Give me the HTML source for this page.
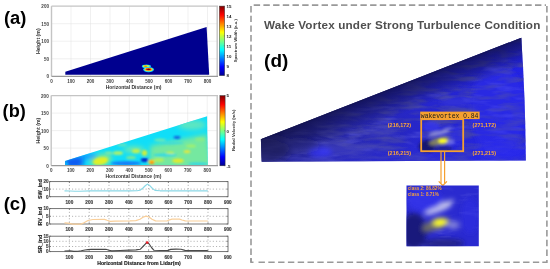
<!DOCTYPE html><html><head><meta charset="utf-8"><style>html,body{margin:0;padding:0;background:#fff;}
svg{display:block;}
.g{stroke:#e0e0e0;stroke-width:0.5;}
.dg{stroke:#808080;stroke-width:0.6;stroke-dasharray:1.1 2.1;}
.axl{stroke:#c4c4c4;stroke-width:1.4;}
.axb{stroke:#999;stroke-width:1.2;}
.ax2{fill:none;stroke:#666;stroke-width:0.9;}
.tk{font-family:"Liberation Sans", Arial, sans-serif;font-size:4.4px;font-weight:bold;fill:#222;}
.tk2{font-family:"Liberation Sans", Arial, sans-serif;font-size:5.2px;font-weight:bold;fill:#444;}
.tk3{font-family:"Liberation Sans", Arial, sans-serif;font-size:5.2px;font-weight:bold;fill:#3a3a3a;stroke:#3a3a3a;stroke-width:0.15px;}
.lb{font-family:"Liberation Sans", Arial, sans-serif;font-size:5.2px;font-weight:bold;fill:#222;stroke:#222;stroke-width:0.15px;}
.lb2{font-family:"Liberation Sans", Arial, sans-serif;font-size:5.2px;font-weight:bold;fill:#333;}
</style></head><body><svg width="550" height="269" viewBox="0 0 550 269"><defs><linearGradient id="jetA" x1="0" y1="1" x2="0" y2="0"><stop offset="0" stop-color="#00008f"/><stop offset="0.125" stop-color="#0000ff"/><stop offset="0.375" stop-color="#00ffff"/><stop offset="0.625" stop-color="#ffff00"/><stop offset="0.875" stop-color="#ff0000"/><stop offset="1" stop-color="#800000"/></linearGradient><linearGradient id="jetB" x1="0" y1="1" x2="0" y2="0"><stop offset="0" stop-color="#00008f"/><stop offset="0.125" stop-color="#0000ff"/><stop offset="0.375" stop-color="#00ffff"/><stop offset="0.625" stop-color="#ffff00"/><stop offset="0.875" stop-color="#ff0000"/><stop offset="1" stop-color="#800000"/></linearGradient><filter id="bl05" x="-50%" y="-50%" width="200%" height="200%"><feGaussianBlur stdDeviation="0.6"/></filter><filter id="bl15" x="-50%" y="-50%" width="200%" height="200%"><feGaussianBlur stdDeviation="1.5"/></filter><filter id="bl1" x="-50%" y="-50%" width="200%" height="200%"><feGaussianBlur stdDeviation="1.2"/></filter><filter id="bl2" x="-50%" y="-50%" width="200%" height="200%"><feGaussianBlur stdDeviation="2.5"/></filter><filter id="bl3" x="-50%" y="-50%" width="200%" height="200%"><feGaussianBlur stdDeviation="4"/></filter><clipPath id="triB"><polygon points="65,161 207.1,116.2 207.7,165 65,165"/></clipPath><clipPath id="wedge"><path d="M260.9,139.2 L521.3,37.7 Q525.5,100 525.8,160.5 L261.7,161.8 Z"/></clipPath><linearGradient id="wg" x1="0" y1="0" x2="1" y2="0"><stop offset="0" stop-color="#22225c"/><stop offset="0.12" stop-color="#26267c"/><stop offset="0.3" stop-color="#2828a8"/><stop offset="0.6" stop-color="#2626cc"/><stop offset="1" stop-color="#2222e6"/></linearGradient><linearGradient id="topband" gradientUnits="userSpaceOnUse" x1="390" y1="88.6" x2="400.2" y2="114.7"><stop offset="0" stop-color="#10104e" stop-opacity="0.85"/><stop offset="0.5" stop-color="#10104e" stop-opacity="0.45"/><stop offset="1" stop-color="#12125a" stop-opacity="0"/></linearGradient><linearGradient id="botband" gradientUnits="userSpaceOnUse" x1="0" y1="135" x2="0" y2="161"><stop offset="0" stop-color="#3030f0" stop-opacity="0"/><stop offset="1" stop-color="#3030f0" stop-opacity="0.35"/></linearGradient></defs><rect width="550" height="269" fill="#fff"/><g><line x1="71.0" y1="6.1" x2="71.0" y2="76.4" class="g"/><line x1="90.5" y1="6.1" x2="90.5" y2="76.4" class="g"/><line x1="110.0" y1="6.1" x2="110.0" y2="76.4" class="g"/><line x1="129.5" y1="6.1" x2="129.5" y2="76.4" class="g"/><line x1="149.0" y1="6.1" x2="149.0" y2="76.4" class="g"/><line x1="168.5" y1="6.1" x2="168.5" y2="76.4" class="g"/><line x1="188.0" y1="6.1" x2="188.0" y2="76.4" class="g"/><line x1="207.5" y1="6.1" x2="207.5" y2="76.4" class="g"/><line x1="51.5" y1="58.8" x2="218.0" y2="58.8" class="g"/><line x1="51.5" y1="41.2" x2="218.0" y2="41.2" class="g"/><line x1="51.5" y1="23.7" x2="218.0" y2="23.7" class="g"/><polygon points="65.3,71.7 206.6,27 209.2,74.8 65.3,74.8" fill="#00008f"/><g filter="url(#bl05)"><ellipse cx="146.4" cy="66.3" rx="4.6" ry="1.9" fill="#10c8ff"/><ellipse cx="146.2" cy="66.2" rx="3.4" ry="1.2" fill="#b8f848"/><ellipse cx="145.6" cy="66.2" rx="1.6" ry="0.75" fill="#ff8a00"/><ellipse cx="148.6" cy="69.6" rx="5.4" ry="2.6" fill="#10c8ff"/><ellipse cx="148.6" cy="69.5" rx="4.2" ry="1.8" fill="#f0f020"/><ellipse cx="148.5" cy="69.4" rx="3.1" ry="1.15" fill="#f02000"/><ellipse cx="148.6" cy="69.4" rx="1.5" ry="0.6" fill="#800000"/></g><line x1="51.5" y1="6.1" x2="218.0" y2="6.1" class="axl"/><line x1="51.5" y1="6.1" x2="51.5" y2="76.4" class="axl"/><line x1="217.2" y1="6.1" x2="217.2" y2="76.4" class="axl"/><line x1="51.5" y1="76.4" x2="218.0" y2="76.4" class="axb"/><text x="51.5" y="83.0" class="tk2" text-anchor="middle" textLength="2.55" lengthAdjust="spacingAndGlyphs">0</text><text x="71.0" y="83.0" class="tk2" text-anchor="middle" textLength="7.65" lengthAdjust="spacingAndGlyphs">100</text><text x="90.5" y="83.0" class="tk2" text-anchor="middle" textLength="7.65" lengthAdjust="spacingAndGlyphs">200</text><text x="110.0" y="83.0" class="tk2" text-anchor="middle" textLength="7.65" lengthAdjust="spacingAndGlyphs">300</text><text x="129.5" y="83.0" class="tk2" text-anchor="middle" textLength="7.65" lengthAdjust="spacingAndGlyphs">400</text><text x="149.0" y="83.0" class="tk2" text-anchor="middle" textLength="7.65" lengthAdjust="spacingAndGlyphs">500</text><text x="168.5" y="83.0" class="tk2" text-anchor="middle" textLength="7.65" lengthAdjust="spacingAndGlyphs">600</text><text x="188.0" y="83.0" class="tk2" text-anchor="middle" textLength="7.65" lengthAdjust="spacingAndGlyphs">700</text><text x="207.5" y="83.0" class="tk2" text-anchor="middle" textLength="7.65" lengthAdjust="spacingAndGlyphs">800</text><text x="49.0" y="78.4" class="tk2" text-anchor="end" textLength="2.55" lengthAdjust="spacingAndGlyphs">0</text><text x="49.0" y="60.8" class="tk2" text-anchor="end" textLength="5.10" lengthAdjust="spacingAndGlyphs">50</text><text x="49.0" y="43.2" class="tk2" text-anchor="end" textLength="7.65" lengthAdjust="spacingAndGlyphs">100</text><text x="49.0" y="25.7" class="tk2" text-anchor="end" textLength="7.65" lengthAdjust="spacingAndGlyphs">150</text><text x="49.0" y="8.1" class="tk2" text-anchor="end" textLength="7.65" lengthAdjust="spacingAndGlyphs">200</text><text x="133.6" y="88.8" class="lb2" style="font-size:5px" text-anchor="middle">Horizontal Distance (m)</text><text transform="translate(39.5 41.2) rotate(-90)" class="lb2" text-anchor="middle">Height (m)</text><rect x="219.4" y="6.1" width="5.2" height="69.5" fill="url(#jetA)" stroke="#333" stroke-width="0.5"/><line x1="223.8" y1="75.6" x2="224.6" y2="75.6" stroke="#333" stroke-width="0.4"/><text x="226.5" y="77.4" class="tk">8</text><line x1="223.8" y1="65.7" x2="224.6" y2="65.7" stroke="#333" stroke-width="0.4"/><text x="226.5" y="67.5" class="tk">9</text><line x1="223.8" y1="55.7" x2="224.6" y2="55.7" stroke="#333" stroke-width="0.4"/><text x="226.5" y="57.5" class="tk">10</text><line x1="223.8" y1="45.8" x2="224.6" y2="45.8" stroke="#333" stroke-width="0.4"/><text x="226.5" y="47.6" class="tk">11</text><line x1="223.8" y1="35.9" x2="224.6" y2="35.9" stroke="#333" stroke-width="0.4"/><text x="226.5" y="37.7" class="tk">12</text><line x1="223.8" y1="26.0" x2="224.6" y2="26.0" stroke="#333" stroke-width="0.4"/><text x="226.5" y="27.8" class="tk">13</text><line x1="223.8" y1="16.0" x2="224.6" y2="16.0" stroke="#333" stroke-width="0.4"/><text x="226.5" y="17.8" class="tk">14</text><line x1="223.8" y1="6.1" x2="224.6" y2="6.1" stroke="#333" stroke-width="0.4"/><text x="226.5" y="7.9" class="tk">15</text><text transform="translate(236.9 40.7) rotate(-90)" class="lb2" style="font-size:4.2px" text-anchor="middle">Spectrum Width (a.u.)</text></g><g><line x1="70.7" y1="95.6" x2="70.7" y2="165.6" class="g"/><line x1="90.2" y1="95.6" x2="90.2" y2="165.6" class="g"/><line x1="109.7" y1="95.6" x2="109.7" y2="165.6" class="g"/><line x1="129.2" y1="95.6" x2="129.2" y2="165.6" class="g"/><line x1="148.7" y1="95.6" x2="148.7" y2="165.6" class="g"/><line x1="168.2" y1="95.6" x2="168.2" y2="165.6" class="g"/><line x1="187.7" y1="95.6" x2="187.7" y2="165.6" class="g"/><line x1="207.2" y1="95.6" x2="207.2" y2="165.6" class="g"/><line x1="51.2" y1="148.1" x2="218.0" y2="148.1" class="g"/><line x1="51.2" y1="130.6" x2="218.0" y2="130.6" class="g"/><line x1="51.2" y1="113.1" x2="218.0" y2="113.1" class="g"/><g clip-path="url(#triB)"><rect x="60" y="110" width="155" height="60" fill="#10def8"/><g filter="url(#bl2)"><polygon points="150,146 207,134 212,168 150,168" fill="#74e8a0"/><ellipse cx="192" cy="125" rx="14" ry="5" fill="#5ee6c0"/><ellipse cx="134" cy="149.5" rx="11" ry="3" fill="#78e8a8"/><ellipse cx="101" cy="160" rx="11" ry="5.5" fill="#90ea80" transform="rotate(-15 101 160)"/><ellipse cx="74" cy="162.5" rx="10" ry="5.5" fill="#0a58f2"/><ellipse cx="86" cy="156.5" rx="12" ry="2" fill="#0a80ff"/></g><g filter="url(#bl1)"><ellipse cx="118" cy="153" rx="5" ry="2" fill="#a8f070"/><ellipse cx="136" cy="151" rx="4" ry="2" fill="#c0f050"/><ellipse cx="131" cy="157.5" rx="5" ry="1.6" fill="#80e890"/><ellipse cx="109" cy="153" rx="4" ry="1.6" fill="#80e8a0"/><ellipse cx="159" cy="160" rx="5" ry="2" fill="#b0f060"/><ellipse cx="170" cy="153" rx="4" ry="1.6" fill="#c8f048"/><ellipse cx="200" cy="139.5" rx="5" ry="1.8" fill="#88ec88"/><ellipse cx="191" cy="146" rx="5" ry="1.6" fill="#a0f070"/><ellipse cx="160" cy="140" rx="6" ry="1.5" fill="#70e8b0"/><ellipse cx="122" cy="145" rx="5" ry="1.4" fill="#60e4c0"/><ellipse cx="165" cy="155" rx="12" ry="1.4" fill="#30d8e8"/><ellipse cx="198" cy="163.8" rx="10" ry="1.4" fill="#30d8e8"/><ellipse cx="172" cy="143" rx="12" ry="1.4" fill="#40dcd8"/><ellipse cx="100.5" cy="161" rx="7.5" ry="3.6" fill="#e0f028" transform="rotate(-12 100.5 161)"/><ellipse cx="66.5" cy="164" rx="1.8" ry="1.6" fill="#00c0ff"/><ellipse cx="144.5" cy="153" rx="2.8" ry="3" fill="#c8ee40"/><ellipse cx="151.5" cy="162" rx="3.2" ry="2.4" fill="#ffd020"/><ellipse cx="151.8" cy="162.8" rx="1.8" ry="1.2" fill="#ff7000"/><ellipse cx="178" cy="160.8" rx="6" ry="2.2" fill="#e0ea30"/><ellipse cx="187" cy="151.6" rx="3.5" ry="1.6" fill="#e0e840"/><ellipse cx="144.6" cy="160" rx="3.8" ry="2" fill="#0028c8"/><ellipse cx="126" cy="163.2" rx="15" ry="2" fill="#1478f8"/><ellipse cx="177" cy="137.5" rx="3.5" ry="1.4" fill="#1060e0"/></g></g><line x1="51.2" y1="95.6" x2="218.0" y2="95.6" class="axl"/><line x1="51.2" y1="95.6" x2="51.2" y2="165.6" class="axl"/><line x1="217.2" y1="95.6" x2="217.2" y2="165.6" class="axl"/><line x1="51.2" y1="165.6" x2="218.0" y2="165.6" class="axb"/><text x="51.2" y="172.2" class="tk2" text-anchor="middle" textLength="2.55" lengthAdjust="spacingAndGlyphs">0</text><text x="70.7" y="172.2" class="tk2" text-anchor="middle" textLength="7.65" lengthAdjust="spacingAndGlyphs">100</text><text x="90.2" y="172.2" class="tk2" text-anchor="middle" textLength="7.65" lengthAdjust="spacingAndGlyphs">200</text><text x="109.7" y="172.2" class="tk2" text-anchor="middle" textLength="7.65" lengthAdjust="spacingAndGlyphs">300</text><text x="129.2" y="172.2" class="tk2" text-anchor="middle" textLength="7.65" lengthAdjust="spacingAndGlyphs">400</text><text x="148.7" y="172.2" class="tk2" text-anchor="middle" textLength="7.65" lengthAdjust="spacingAndGlyphs">500</text><text x="168.2" y="172.2" class="tk2" text-anchor="middle" textLength="7.65" lengthAdjust="spacingAndGlyphs">600</text><text x="187.7" y="172.2" class="tk2" text-anchor="middle" textLength="7.65" lengthAdjust="spacingAndGlyphs">700</text><text x="207.2" y="172.2" class="tk2" text-anchor="middle" textLength="7.65" lengthAdjust="spacingAndGlyphs">800</text><text x="48.7" y="167.6" class="tk2" text-anchor="end" textLength="2.55" lengthAdjust="spacingAndGlyphs">0</text><text x="48.7" y="150.1" class="tk2" text-anchor="end" textLength="5.10" lengthAdjust="spacingAndGlyphs">50</text><text x="48.7" y="132.6" class="tk2" text-anchor="end" textLength="7.65" lengthAdjust="spacingAndGlyphs">100</text><text x="48.7" y="115.1" class="tk2" text-anchor="end" textLength="7.65" lengthAdjust="spacingAndGlyphs">150</text><text x="48.7" y="97.6" class="tk2" text-anchor="end" textLength="7.65" lengthAdjust="spacingAndGlyphs">200</text><text x="133.4" y="178.0" class="lb2" style="font-size:5px" text-anchor="middle">Horizontal Distance (m)</text><text transform="translate(39.5 130.6) rotate(-90)" class="lb2" text-anchor="middle">Height (m)</text><rect x="219.9" y="95.6" width="5.2" height="70.20000000000002" fill="url(#jetB)" stroke="#333" stroke-width="0.5"/><line x1="224.3" y1="165.8" x2="225.1" y2="165.8" stroke="#333" stroke-width="0.4"/><text x="226.5" y="167.6" class="tk">-5</text><line x1="224.3" y1="130.7" x2="225.1" y2="130.7" stroke="#333" stroke-width="0.4"/><text x="226.5" y="132.5" class="tk">0</text><line x1="224.3" y1="95.6" x2="225.1" y2="95.6" stroke="#333" stroke-width="0.4"/><text x="226.5" y="97.4" class="tk">5</text><text transform="translate(235.4 130.3) rotate(-90)" class="lb2" style="font-size:4.25px" text-anchor="middle">Radial Velocity (m/s)</text></g><g><line x1="69.4" y1="181.6" x2="69.4" y2="196.7" class="dg"/><line x1="89.2" y1="181.6" x2="89.2" y2="196.7" class="dg"/><line x1="109.0" y1="181.6" x2="109.0" y2="196.7" class="dg"/><line x1="128.8" y1="181.6" x2="128.8" y2="196.7" class="dg"/><line x1="148.6" y1="181.6" x2="148.6" y2="196.7" class="dg"/><line x1="168.4" y1="181.6" x2="168.4" y2="196.7" class="dg"/><line x1="188.2" y1="181.6" x2="188.2" y2="196.7" class="dg"/><line x1="208.0" y1="181.6" x2="208.0" y2="196.7" class="dg"/><line x1="49.6" y1="189.1" x2="228.0" y2="189.1" class="dg"/><rect x="49.6" y="181.6" width="178.4" height="15.099999999999994" class="ax2"/><path d="M69.4 181.6 v1.4 M69.4 196.7 v-1.4" stroke="#555" stroke-width="0.6"/><path d="M89.2 181.6 v1.4 M89.2 196.7 v-1.4" stroke="#555" stroke-width="0.6"/><path d="M109.0 181.6 v1.4 M109.0 196.7 v-1.4" stroke="#555" stroke-width="0.6"/><path d="M128.8 181.6 v1.4 M128.8 196.7 v-1.4" stroke="#555" stroke-width="0.6"/><path d="M148.6 181.6 v1.4 M148.6 196.7 v-1.4" stroke="#555" stroke-width="0.6"/><path d="M168.4 181.6 v1.4 M168.4 196.7 v-1.4" stroke="#555" stroke-width="0.6"/><path d="M188.2 181.6 v1.4 M188.2 196.7 v-1.4" stroke="#555" stroke-width="0.6"/><path d="M208.0 181.6 v1.4 M208.0 196.7 v-1.4" stroke="#555" stroke-width="0.6"/><path d="M49.6 196.7 h1.4 M228.0 196.7 h-1.4" stroke="#555" stroke-width="0.6"/><path d="M49.6 189.1 h1.4 M228.0 189.1 h-1.4" stroke="#555" stroke-width="0.6"/><path d="M49.6 181.6 h1.4 M228.0 181.6 h-1.4" stroke="#555" stroke-width="0.6"/><text x="48.5" y="198.5" class="tk3" text-anchor="end" textLength="2.55" lengthAdjust="spacingAndGlyphs">0</text><text x="48.5" y="191.0" class="tk3" text-anchor="end" textLength="5.10" lengthAdjust="spacingAndGlyphs">10</text><text x="48.5" y="183.4" class="tk3" text-anchor="end" textLength="5.10" lengthAdjust="spacingAndGlyphs">20</text><text x="69.4" y="203.6" class="tk3" text-anchor="middle" textLength="7.80" lengthAdjust="spacingAndGlyphs">100</text><text x="89.2" y="203.6" class="tk3" text-anchor="middle" textLength="7.80" lengthAdjust="spacingAndGlyphs">200</text><text x="109.0" y="203.6" class="tk3" text-anchor="middle" textLength="7.80" lengthAdjust="spacingAndGlyphs">300</text><text x="128.8" y="203.6" class="tk3" text-anchor="middle" textLength="7.80" lengthAdjust="spacingAndGlyphs">400</text><text x="148.6" y="203.6" class="tk3" text-anchor="middle" textLength="7.80" lengthAdjust="spacingAndGlyphs">500</text><text x="168.4" y="203.6" class="tk3" text-anchor="middle" textLength="7.80" lengthAdjust="spacingAndGlyphs">600</text><text x="188.2" y="203.6" class="tk3" text-anchor="middle" textLength="7.80" lengthAdjust="spacingAndGlyphs">700</text><text x="208.0" y="203.6" class="tk3" text-anchor="middle" textLength="7.80" lengthAdjust="spacingAndGlyphs">800</text><text x="227.8" y="203.6" class="tk3" text-anchor="middle" textLength="7.80" lengthAdjust="spacingAndGlyphs">900</text><text transform="translate(41.6 189.1) rotate(-90)" class="lb" style="font-size:5.4px" text-anchor="middle">SW_ind</text><polyline points="64.5,190.9 70,191 75,191.3 80,191.2 90,190.9 110,190.8 130,190.9 137,190.7 140,190.2 143,188 145.5,185.5 147.7,184.1 150,185.8 152.5,188.5 155,190.4 160,190.8 180,190.8 200,190.9 207.8,190.9" fill="none" stroke="#8cd8e6" stroke-width="1.15" stroke-linejoin="round"/><line x1="69.4" y1="208.6" x2="69.4" y2="224.0" class="dg"/><line x1="89.2" y1="208.6" x2="89.2" y2="224.0" class="dg"/><line x1="109.0" y1="208.6" x2="109.0" y2="224.0" class="dg"/><line x1="128.8" y1="208.6" x2="128.8" y2="224.0" class="dg"/><line x1="148.6" y1="208.6" x2="148.6" y2="224.0" class="dg"/><line x1="168.4" y1="208.6" x2="168.4" y2="224.0" class="dg"/><line x1="188.2" y1="208.6" x2="188.2" y2="224.0" class="dg"/><line x1="208.0" y1="208.6" x2="208.0" y2="224.0" class="dg"/><line x1="49.6" y1="216.3" x2="228.0" y2="216.3" class="dg"/><rect x="49.6" y="208.6" width="178.4" height="15.400000000000006" class="ax2"/><path d="M69.4 208.6 v1.4 M69.4 224.0 v-1.4" stroke="#555" stroke-width="0.6"/><path d="M89.2 208.6 v1.4 M89.2 224.0 v-1.4" stroke="#555" stroke-width="0.6"/><path d="M109.0 208.6 v1.4 M109.0 224.0 v-1.4" stroke="#555" stroke-width="0.6"/><path d="M128.8 208.6 v1.4 M128.8 224.0 v-1.4" stroke="#555" stroke-width="0.6"/><path d="M148.6 208.6 v1.4 M148.6 224.0 v-1.4" stroke="#555" stroke-width="0.6"/><path d="M168.4 208.6 v1.4 M168.4 224.0 v-1.4" stroke="#555" stroke-width="0.6"/><path d="M188.2 208.6 v1.4 M188.2 224.0 v-1.4" stroke="#555" stroke-width="0.6"/><path d="M208.0 208.6 v1.4 M208.0 224.0 v-1.4" stroke="#555" stroke-width="0.6"/><path d="M49.6 224.0 h1.4 M228.0 224.0 h-1.4" stroke="#555" stroke-width="0.6"/><path d="M49.6 216.3 h1.4 M228.0 216.3 h-1.4" stroke="#555" stroke-width="0.6"/><path d="M49.6 208.6 h1.4 M228.0 208.6 h-1.4" stroke="#555" stroke-width="0.6"/><text x="48.5" y="225.8" class="tk3" text-anchor="end" textLength="2.55" lengthAdjust="spacingAndGlyphs">0</text><text x="48.5" y="218.2" class="tk3" text-anchor="end" textLength="2.55" lengthAdjust="spacingAndGlyphs">5</text><text x="48.5" y="210.4" class="tk3" text-anchor="end" textLength="5.10" lengthAdjust="spacingAndGlyphs">10</text><text x="69.4" y="230.9" class="tk3" text-anchor="middle" textLength="7.80" lengthAdjust="spacingAndGlyphs">100</text><text x="89.2" y="230.9" class="tk3" text-anchor="middle" textLength="7.80" lengthAdjust="spacingAndGlyphs">200</text><text x="109.0" y="230.9" class="tk3" text-anchor="middle" textLength="7.80" lengthAdjust="spacingAndGlyphs">300</text><text x="128.8" y="230.9" class="tk3" text-anchor="middle" textLength="7.80" lengthAdjust="spacingAndGlyphs">400</text><text x="148.6" y="230.9" class="tk3" text-anchor="middle" textLength="7.80" lengthAdjust="spacingAndGlyphs">500</text><text x="168.4" y="230.9" class="tk3" text-anchor="middle" textLength="7.80" lengthAdjust="spacingAndGlyphs">600</text><text x="188.2" y="230.9" class="tk3" text-anchor="middle" textLength="7.80" lengthAdjust="spacingAndGlyphs">700</text><text x="208.0" y="230.9" class="tk3" text-anchor="middle" textLength="7.80" lengthAdjust="spacingAndGlyphs">800</text><text x="227.8" y="230.9" class="tk3" text-anchor="middle" textLength="7.80" lengthAdjust="spacingAndGlyphs">900</text><text transform="translate(41.6 216.3) rotate(-90)" class="lb" style="font-size:5.4px" text-anchor="middle">RV_ind</text><polyline points="64.5,222.8 68,223.2 72.5,224.1 81,224.1 84,222.8 88,220.5 92.8,219.5 104.5,219.4 107,220.3 110.3,221.4 115,221.1 130,220.9 135.8,220.6 140,219.2 143,217.3 146,216.1 149,217 152,219.3 155.5,220.9 167,221 169.5,219.8 172,219.1 179.5,219.1 182,220 185.3,220.9 200,221 207.8,221" fill="none" stroke="#f9cf9a" stroke-width="1.2" stroke-linejoin="round"/><line x1="69.4" y1="236.2" x2="69.4" y2="251.6" class="dg"/><line x1="89.2" y1="236.2" x2="89.2" y2="251.6" class="dg"/><line x1="109.0" y1="236.2" x2="109.0" y2="251.6" class="dg"/><line x1="128.8" y1="236.2" x2="128.8" y2="251.6" class="dg"/><line x1="148.6" y1="236.2" x2="148.6" y2="251.6" class="dg"/><line x1="168.4" y1="236.2" x2="168.4" y2="251.6" class="dg"/><line x1="188.2" y1="236.2" x2="188.2" y2="251.6" class="dg"/><line x1="208.0" y1="236.2" x2="208.0" y2="251.6" class="dg"/><line x1="49.6" y1="246.5" x2="228.0" y2="246.5" class="dg"/><line x1="49.6" y1="241.3" x2="228.0" y2="241.3" class="dg"/><rect x="49.6" y="236.2" width="178.4" height="15.400000000000006" class="ax2"/><path d="M69.4 236.2 v1.4 M69.4 251.6 v-1.4" stroke="#555" stroke-width="0.6"/><path d="M89.2 236.2 v1.4 M89.2 251.6 v-1.4" stroke="#555" stroke-width="0.6"/><path d="M109.0 236.2 v1.4 M109.0 251.6 v-1.4" stroke="#555" stroke-width="0.6"/><path d="M128.8 236.2 v1.4 M128.8 251.6 v-1.4" stroke="#555" stroke-width="0.6"/><path d="M148.6 236.2 v1.4 M148.6 251.6 v-1.4" stroke="#555" stroke-width="0.6"/><path d="M168.4 236.2 v1.4 M168.4 251.6 v-1.4" stroke="#555" stroke-width="0.6"/><path d="M188.2 236.2 v1.4 M188.2 251.6 v-1.4" stroke="#555" stroke-width="0.6"/><path d="M208.0 236.2 v1.4 M208.0 251.6 v-1.4" stroke="#555" stroke-width="0.6"/><path d="M49.6 251.6 h1.4 M228.0 251.6 h-1.4" stroke="#555" stroke-width="0.6"/><path d="M49.6 246.5 h1.4 M228.0 246.5 h-1.4" stroke="#555" stroke-width="0.6"/><path d="M49.6 241.3 h1.4 M228.0 241.3 h-1.4" stroke="#555" stroke-width="0.6"/><path d="M49.6 236.2 h1.4 M228.0 236.2 h-1.4" stroke="#555" stroke-width="0.6"/><text x="48.5" y="253.4" class="tk3" text-anchor="end" textLength="2.55" lengthAdjust="spacingAndGlyphs">0</text><text x="48.5" y="248.3" class="tk3" text-anchor="end" textLength="2.55" lengthAdjust="spacingAndGlyphs">5</text><text x="48.5" y="243.2" class="tk3" text-anchor="end" textLength="5.10" lengthAdjust="spacingAndGlyphs">10</text><text x="48.5" y="238.0" class="tk3" text-anchor="end" textLength="5.10" lengthAdjust="spacingAndGlyphs">15</text><text x="69.4" y="258.5" class="tk3" text-anchor="middle" textLength="7.80" lengthAdjust="spacingAndGlyphs">100</text><text x="89.2" y="258.5" class="tk3" text-anchor="middle" textLength="7.80" lengthAdjust="spacingAndGlyphs">200</text><text x="109.0" y="258.5" class="tk3" text-anchor="middle" textLength="7.80" lengthAdjust="spacingAndGlyphs">300</text><text x="128.8" y="258.5" class="tk3" text-anchor="middle" textLength="7.80" lengthAdjust="spacingAndGlyphs">400</text><text x="148.6" y="258.5" class="tk3" text-anchor="middle" textLength="7.80" lengthAdjust="spacingAndGlyphs">500</text><text x="168.4" y="258.5" class="tk3" text-anchor="middle" textLength="7.80" lengthAdjust="spacingAndGlyphs">600</text><text x="188.2" y="258.5" class="tk3" text-anchor="middle" textLength="7.80" lengthAdjust="spacingAndGlyphs">700</text><text x="208.0" y="258.5" class="tk3" text-anchor="middle" textLength="7.80" lengthAdjust="spacingAndGlyphs">800</text><text x="227.8" y="258.5" class="tk3" text-anchor="middle" textLength="7.80" lengthAdjust="spacingAndGlyphs">900</text><text transform="translate(41.6 243.9) rotate(-90)" class="lb" style="font-size:5.4px" text-anchor="middle">SR_ind</text><polyline points="64.5,251 70,250.8 73.9,251.4 78,251.3 81.2,250.8 85,250 88,249.6 91.4,249.3 105.9,249.3 109,250.2 111.7,250.9 120,250.5 130,250.1 136,249.9 140.2,249.3 143,246.5 145.5,243.8 147.2,242.5 149,243.8 151.5,247.5 154,250.3 160,250.5 168,250.4 170.7,249.4 176,249.1 181,249.2 185,250.4 195,250.5 207.8,250.5" fill="none" stroke="#4a4a4a" stroke-width="1.15" stroke-linejoin="round"/><circle cx="147.2" cy="242.6" r="1.4" fill="#e8202a"/><text x="139" y="264.5" class="lb" text-anchor="middle">Horizontal Distance from Lidar(m)</text></g><text x="3.9" y="23.6" font-family='"Liberation Sans", Arial, sans-serif' font-weight="bold" font-size="17.5" textLength="22.4" lengthAdjust="spacingAndGlyphs">(a)</text><text x="2.6" y="116.5" font-family='"Liberation Sans", Arial, sans-serif' font-weight="bold" font-size="17.5" textLength="23.2" lengthAdjust="spacingAndGlyphs">(b)</text><text x="3.7" y="210" font-family='"Liberation Sans", Arial, sans-serif' font-weight="bold" font-size="17.5" textLength="22.6" lengthAdjust="spacingAndGlyphs">(c)</text><g stroke="#999" stroke-width="1.6" stroke-dasharray="6.4 3.3" fill="none"><line x1="253.7" y1="5.1" x2="546" y2="5.1"/><line x1="251" y1="6" x2="251" y2="262"/><line x1="546.9" y1="6.1" x2="546.9" y2="256" stroke-dasharray="6.4 3.34"/><line x1="258.5" y1="262.3" x2="539.2" y2="262.3" stroke-dasharray="6.4 3.4"/><polyline points="542.3,262.3 546.9,262.3 546.9,260" stroke-dasharray="none"/><polyline points="251,258 251,262.3 253.5,262.3" stroke-dasharray="none"/></g><text x="264" y="29" font-family='"Liberation Sans", Arial, sans-serif' font-weight="bold" font-size="11.7" fill="#4f4f4f" textLength="276.3" lengthAdjust="spacing">Wake Vortex under Strong Turbulence Condition</text><text x="264.1" y="67.4" font-family='"Liberation Sans", Arial, sans-serif' font-weight="bold" font-size="17.5" textLength="24.2" lengthAdjust="spacingAndGlyphs">(d)</text><filter id="strk" x="0" y="0" width="100%" height="100%"><feTurbulence type="fractalNoise" baseFrequency="0.035 0.15" numOctaves="3" seed="7"/><feColorMatrix type="matrix" values="0 0 0 0 0.26  0 0 0 0 0.26  0 0 0 0 0.85  2.6 0 0 0 -1.4"/><feGaussianBlur stdDeviation="0.5"/></filter><filter id="strkd" x="0" y="0" width="100%" height="100%"><feTurbulence type="fractalNoise" baseFrequency="0.04 0.16" numOctaves="3" seed="11"/><feColorMatrix type="matrix" values="0 0 0 0 0.07  0 0 0 0 0.07  0 0 0 0 0.36  2.8 0 0 0 -1.15"/><feGaussianBlur stdDeviation="0.5"/></filter><g clip-path="url(#wedge)"><rect x="255" y="30" width="280" height="140" fill="url(#wg)"/><rect x="255" y="30" width="280" height="140" filter="url(#strk)" opacity="0.4"/><rect x="255" y="30" width="280" height="140" filter="url(#strkd)" opacity="0.75"/><g filter="url(#bl2)"><ellipse cx="330" cy="149" rx="45" ry="6" fill="#5a5ab4" opacity="0.35"/><ellipse cx="380" cy="132" rx="18" ry="4" fill="#5a5ac0" opacity="0.35"/><ellipse cx="455" cy="102" rx="15" ry="4" fill="#4a4ae0" opacity="0.35"/><ellipse cx="320" cy="152" rx="12" ry="5" fill="#3838fa" opacity="0.85"/><ellipse cx="498" cy="110" rx="28" ry="45" fill="#3030f0" opacity="0.35"/><ellipse cx="500" cy="150" rx="25" ry="10" fill="#2828f0" opacity="0.5"/></g><rect x="255" y="30" width="280" height="140" fill="url(#topband)"/><rect x="255" y="30" width="280" height="140" fill="url(#botband)"/><g filter="url(#bl3)"><ellipse cx="266" cy="150" rx="24" ry="14" fill="#1a1a52" opacity="0.6"/><ellipse cx="300" cy="146" rx="20" ry="8" fill="#1e1e60" opacity="0.35"/></g><line x1="260.9" y1="139.2" x2="521.3" y2="37.7" stroke="#141448" stroke-width="1.6" opacity="0.6"/><g filter="url(#bl15)"><ellipse cx="431.0" cy="126.8" rx="9.0" ry="5.0" fill="#3434ec" opacity="0.8"/><ellipse cx="426.9" cy="146.3" rx="8.2" ry="6.2" fill="#181870" opacity="1"/><ellipse cx="442.5" cy="148.5" rx="10.2" ry="2.5" fill="#1e1e78" opacity="0.7"/><ellipse cx="439.2" cy="133.0" rx="11.5" ry="2.0" fill="#b4b4e0" opacity="0.7" transform="rotate(-12 439.2 133.0)"/><ellipse cx="447.4" cy="128.4" rx="5.3" ry="1.2" fill="#9c9cd4" opacity="0.6" transform="rotate(-15 447.4 128.4)"/><ellipse cx="439.2" cy="141.1" rx="10.7" ry="3.4" fill="#8c8c58" opacity="0.85" transform="rotate(-15 439.2 141.1)"/><ellipse cx="450.3" cy="141.7" rx="4.1" ry="2.5" fill="#8888f0" opacity="0.7"/><ellipse cx="442.9" cy="141.1" rx="4.5" ry="2.6" fill="#ffff24" opacity="1"/><ellipse cx="457.3" cy="135.5" rx="4.9" ry="9.3" fill="#2c2ce4" opacity="0.6"/></g></g><rect x="421.2" y="119.2" width="42" height="32" fill="none" stroke="#f5a030" stroke-width="1.8"/><rect x="420.2" y="111.6" width="59.4" height="7.5" fill="#f5a030"/><text x="420.8" y="117.6" font-family="Liberation Mono, monospace" font-size="6.6" fill="#1a1a1a" textLength="57.6" lengthAdjust="spacingAndGlyphs">wakevortex <tspan font-family="Liberation Sans, sans-serif">0</tspan>.84</text><text x="387.8" y="127.3" font-family='"Liberation Sans", Arial, sans-serif' font-weight="bold" font-size="5.6" fill="#ffa838" textLength="23.4" lengthAdjust="spacingAndGlyphs">(216,172)</text><text x="472.6" y="127.3" font-family='"Liberation Sans", Arial, sans-serif' font-weight="bold" font-size="5.6" fill="#ffa838" textLength="23.4" lengthAdjust="spacingAndGlyphs">(271,172)</text><text x="387.8" y="155.3" font-family='"Liberation Sans", Arial, sans-serif' font-weight="bold" font-size="5.6" fill="#ffa838" textLength="23.4" lengthAdjust="spacingAndGlyphs">(216,215)</text><text x="472.6" y="155.3" font-family='"Liberation Sans", Arial, sans-serif' font-weight="bold" font-size="5.6" fill="#ffa838" textLength="23.4" lengthAdjust="spacingAndGlyphs">(271,215)</text><line x1="441" y1="152" x2="441" y2="183" stroke="#f5a030" stroke-width="1.2"/><line x1="444.6" y1="152" x2="444.6" y2="183" stroke="#f5a030" stroke-width="1.2"/><polyline points="438.7,181.4 442.8,185.5 446.9,181.4" fill="none" stroke="#f5a030" stroke-width="1.3"/><clipPath id="ins"><rect x="406.5" y="185.5" width="72.3" height="60.8"/></clipPath><g clip-path="url(#ins)"><rect x="406" y="185" width="74" height="62" fill="#2a2ad0"/><rect x="406" y="185" width="74" height="62" filter="url(#strk)" opacity="0.35"/><g filter="url(#bl2)"><ellipse cx="424.6" cy="200.7" rx="18.1" ry="10.9" fill="#3636ec" opacity="0.8"/><ellipse cx="413.7" cy="231.1" rx="13.0" ry="18.2" fill="#1a1a72" opacity="0.9"/><ellipse cx="442.6" cy="243.3" rx="21.7" ry="4.9" fill="#1e1e78" opacity="0.8"/><ellipse cx="428.2" cy="229.3" rx="8.7" ry="3.6" fill="#1a1a70" opacity="0.8" transform="rotate(-20 428.2 229.3)"/><ellipse cx="438.0" cy="209.2" rx="14.5" ry="3.0" fill="#d4d4f2" opacity="0.9" transform="rotate(-20 438.0 209.2)"/><ellipse cx="446.3" cy="203.1" rx="8.7" ry="2.4" fill="#c8c8ea" opacity="0.75" transform="rotate(-20 446.3 203.1)"/><ellipse cx="436.1" cy="224.4" rx="14.5" ry="5.2" fill="#7c7c60" opacity="0.85" transform="rotate(-20 436.1 224.4)"/><ellipse cx="453.1" cy="225.0" rx="6.5" ry="4.3" fill="#9898dc" opacity="0.75"/><ellipse cx="440.1" cy="222.3" rx="7.2" ry="4.1" fill="#ffff24" opacity="1"/><ellipse cx="470.1" cy="215.9" rx="8.7" ry="18.2" fill="#2c2ce4" opacity="0.6"/></g></g><text x="407.8" y="190.3" font-family='"Liberation Sans", Arial, sans-serif' font-weight="bold" font-size="4.6" fill="#f0a040">class 2: 86.82%</text><text x="407.8" y="195.5" font-family='"Liberation Sans", Arial, sans-serif' font-weight="bold" font-size="4.6" fill="#f0a040">class 1: 8.71%</text></svg></body></html>
